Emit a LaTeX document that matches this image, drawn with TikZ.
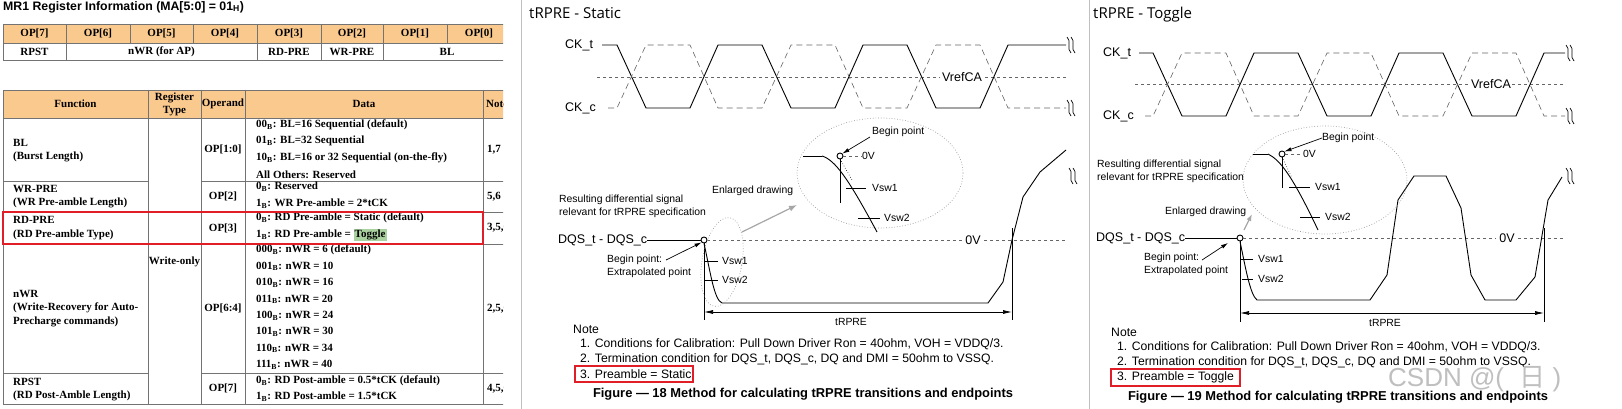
\documentclass[tikz,border=0pt]{standalone}
\usepackage{fontspec}
\setmainfont{Liberation Serif}
\newfontfamily\arial{Liberation Sans}
\newfontfamily\ttl{Open Sans}
\newfontfamily\cjk{Noto Sans CJK SC}
\usetikzlibrary{arrows.meta}
\definecolor{hdr}{RGB}{250,201,142}
\definecolor{hl}{RGB}{170,210,160}
\definecolor{redb}{RGB}{225,30,40}
\tikzset{
 tb/.style={font=\fontsize{11}{12}\selectfont\bfseries, inner sep=0pt},
 tl/.style={tb, anchor=west},
 grid/.style={draw=black!55, line width=0.6pt},
 lab/.style={font=\arial\fontsize{12.5}{13}\selectfont, inner sep=0pt},
 sm/.style={font=\arial\fontsize{10.4}{11}\selectfont, inner sep=0pt, anchor=west},
 note/.style={font=\arial\fontsize{12.2}{13}\selectfont, inner sep=0pt, anchor=west},
 sig/.style={line width=0.9pt},
 dsig/.style={line width=0.6pt, dash pattern=on 6pt off 4pt, black!60},
 zero/.style={line width=0.6pt, dash pattern=on 3pt off 3pt, black!60},
 circ/.style={draw, circle, line width=0.9pt, minimum size=6pt, inner sep=0pt},
 ell/.style={draw=black!40, dotted, line width=0.7pt},
 redbox/.style={draw=redb, line width=1.1pt},
 brk/.pic={\draw[line width=0.7pt] (-3,-8) .. controls (2,-4) and (-4,4) .. (1,8);
           \draw[line width=0.7pt] (1,-8) .. controls (6,-4) and (0,4) .. (5,8);}
}
\begin{document}
\begin{tikzpicture}[x=1pt,y=-1pt]
\useasboundingbox (0,0) rectangle (1622,409);
\fill[white] (0,0) rectangle (1622,409);
% ================= LEFT TABLE =================
\node[anchor=west, inner sep=0pt, font=\arial\bfseries\fontsize{12.3}{13}\selectfont] (t0) at (3,7) {MR1 Register Information (MA[5:0] = 01\textsubscript{H})};
\begin{scope}
\clip (0,15) rectangle (503,409);
\fill[hdr] (3,24) rectangle (510,43);
\draw[grid] (3,24) rectangle (510,60);
\draw[grid] (3,43) -- (510,43);
\foreach \x in {66,257,321,383} \draw[grid] (\x,24) -- (\x,60);
\foreach \x in {130,193,447} \draw[grid] (\x,24) -- (\x,43);
\foreach \i/\xa/\xb in {7/3/66,6/66/130,5/130/193,4/193/257,3/257/321,2/321/383,1/383/447,0/447/511}
  \node[tb] (op\i) at ({(\xa+\xb)/2},33.5) {OP[\i]};
\node[tb] (r1) at (34.5,51.5) {RPST};
\node[tb] (r2) at (161.5,51.5) {nWR (for AP)};
\node[tb] (r3) at (289,51.5) {RD-PRE};
\node[tb] (r4) at (352,51.5) {WR-PRE};
\node[tb] (r5) at (447,51.5) {BL};
% main table
\fill[hdr] (3,90) rectangle (520,118);
\draw[grid] (3,90) rectangle (520,404);
\draw[grid] (3,118) -- (520,118);
\foreach \y in {181,212,244,373} {\draw[grid] (3,\y) -- (148,\y); \draw[grid] (201,\y) -- (520,\y);}
\foreach \x in {148,201,245,483} \draw[grid] (\x,90) -- (\x,404);
\node[tb] (h1) at (75.5,104) {Function};
\node[tb, align=center] (h2) at (174.5,104) {Register\\[1pt]Type};
\node[tb] (h3) at (223,104) {Operand};
\node[tb] (h4) at (364,104) {Data};
\node[tb, anchor=west] (h5) at (486,104) {Notes};
\node[tl] (f1) at (13,143) {BL};
\node[tl] (f1b) at (13,157) {(Burst Length)};
\node[tl] (f2) at (13,189) {WR-PRE};
\node[tl] (f2b) at (13,203) {(WR Pre-amble Length)};
\node[tl] (f3) at (13,220) {RD-PRE};
\node[tl] (f3b) at (13,235) {(RD Pre-amble Type)};
\node[tl] (f4) at (13,294) {nWR};
\node[tl] (f4b) at (13,308) {(Write-Recovery for Auto-};
\node[tl] (f4c) at (13,322) {Precharge commands)};
\node[tl] (f5) at (13,382) {RPST};
\node[tl] (f5b) at (13,396) {(RD Post-Amble Length)};
\node[tb] (wo) at (174.5,262) {Write-only};
\node[tb] (o1) at (223,149.5) {OP[1:0]};
\node[tb] (o2) at (223,196.5) {OP[2]};
\node[tb] (o3) at (223,228) {OP[3]};
\node[tb] (o4) at (223,308.5) {OP[6:4]};
\node[tb] (o5) at (223,388.5) {OP[7]};
\node[tl] (n1) at (487,149.5) {1,7};
\node[tl] (n2) at (487,196.5) {5,6};
\node[tl] (n3) at (487,228) {3,5,6};
\node[tl] (n4) at (487,308.5) {2,5,6};
\node[tl] (n5) at (487,388.5) {4,5,6};
\node[tl] (d1) at (256,125) {00\textsubscript{B}: BL=16 Sequential (default)};
\node[tl] (d2) at (256,141) {01\textsubscript{B}: BL=32 Sequential};
\node[tl] (d3) at (256,158) {10\textsubscript{B}: BL=16 or 32 Sequential (on-the-fly)};
\node[tl] (d4) at (256,175) {All Others: Reserved};
\node[tl] (d5) at (256,187) {0\textsubscript{B}: Reserved};
\node[tl] (d6) at (256,204) {1\textsubscript{B}: WR Pre-amble = 2*tCK};
\node[tl] (d7) at (256,218) {0\textsubscript{B}: RD Pre-amble = Static (default)};
\node[tl] (d8) at (256,235) {1\textsubscript{B}: RD Pre-amble = {\setlength\fboxsep{1pt}\colorbox{hl}{Toggle}}};
\foreach \v/\n [count=\i] in {000/6 (default),001/10,010/16,011/20,100/24,101/30,110/34,111/40}
  \node[tl] (w\i) at (256,{250+16.4*(\i-1)}) {\v\textsubscript{B}: nWR = \n};
\node[tl] (d9) at (256,381) {0\textsubscript{B}: RD Post-amble = 0.5*tCK (default)};
\node[tl] (d10) at (256,397) {1\textsubscript{B}: RD Post-amble = 1.5*tCK};
\draw[redbox] (3,212) rectangle (483,244);
\end{scope}
% panel frames
\draw[black!25, line width=1pt] (521,0) -- (521,409);
\draw[black!25, line width=1pt] (1089,0) -- (1089,409);
% ================= MIDDLE PANEL =================
\node[anchor=west, inner sep=0pt, font=\ttl\fontsize{15}{16}\selectfont] (T1) at (529,13) {tRPRE - Static};
\node[lab, anchor=west] (ckt1) at (565,45) {CK\_t};
\node[lab, anchor=west] (ckc1) at (565,108) {CK\_c};
\draw[zero] (597,77) -- (940,77);
\draw[zero] (985,77) -- (1066,77);
\node[lab] (vr1) at (962,77) {VrefCA};
\draw[sig] (602,45) -- (617,45) -- (646,108) -- (690,108) -- (718,45) -- (762,45) -- (791,108) -- (835,108) -- (863,45) -- (907,45) -- (936,108) -- (980,108) -- (1008,45) -- (1066,45);
\draw[dsig] (608,108) -- (617,108) -- (646,45) -- (690,45) -- (718,108) -- (762,108) -- (791,45) -- (835,45) -- (863,108) -- (907,108) -- (936,45) -- (980,45) -- (1008,108) -- (1066,108);
\pic at (1070,45) {brk};
\pic at (1070,108) {brk};
\pic at (1072,176) {brk};
% DQS
\node[lab, anchor=west] (dqs1) at (558,240) {DQS\_t - DQS\_c};
\node[circ] (bp1) at (704,240) {};
\draw[sig] (dqs1.east) -- (bp1.west);
\draw[zero] (bp1.east) -- (962,240);
\node[lab] (ov1) at (973,240) {0V};
\draw[zero] (984,240) -- (1066,240);
\draw[sig] (bp1.south) .. controls (710,270) and (714,300) .. (722,303) -- (988,303) -- (1003,282) -- (1012,240) -- (1023,197) -- (1040,172) -- (1066,150);
\draw[line width=0.6pt] (704,243) -- (704,320);
\draw[line width=0.6pt] (1012,228) -- (1012,320);
\draw[line width=0.7pt, {Latex[length=9pt,width=4pt]}-{Latex[length=9pt,width=4pt]}] (704,312) -- (1012,312);
\node[sm, anchor=center] (tr1) at (851,322) {tRPRE};
\draw[line width=0.6pt] (704,261) -- (718,261); \node[sm] (v11) at (722,261) {Vsw1};
\draw[line width=0.6pt] (705,280) -- (718,280); \node[sm] (v12) at (722,280) {Vsw2};
\draw[ell, rotate around={-10:(722,262)}] (722,262) ellipse (20 and 45);
\draw[ell] (880,173) ellipse (83 and 55);
\draw[black!35, line width=1.2pt, -{Latex[length=8pt,width=6pt]}] (742,232) -- (797,205);
\node[sm] (en1) at (712,191) {Enlarged drawing};
\node[sm] (rs1) at (559,200) {Resulting differential signal};
\node[sm] (rs1b) at (559,213) {relevant for tRPRE specification};
% enlarged
\node[circ] (bq1) at (840,156) {};
\draw[line width=0.9pt] (803,156) -- (822,156);
\draw[line width=0.9pt] (822,156) .. controls (835,160) and (848,178) .. (877,232);
\draw[zero] (bq1.east) -- (862,156);
\node[sm] (oq1) at (862,156) {0V};
\draw[line width=0.6pt] (840,159) -- (840,203);
\draw[dotted, line width=0.6pt] (840,159) -- (852,180);
\draw[line width=0.6pt] (846,188) -- (866,188); \node[sm] (e11) at (872,188) {Vsw1};
\draw[line width=0.6pt] (858,218) -- (880,218); \node[sm] (e12) at (884,218) {Vsw2};
\node[sm] (bg1) at (872,132) {Begin point};
\draw[line width=0.7pt, -{Latex[length=7pt,width=4pt]}] (870,137) -- (bq1.north east);
\node[sm] (bx1) at (607,260) {Begin point:};
\node[sm] (bx1b) at (607,273) {Extrapolated point};
\draw[line width=0.7pt, -{Latex[length=7pt,width=4pt]}] (666,260) -- (bp1.south west);
\node[note] (nt1) at (573,329) {Note};
\node[note] (nt1a) at (580,344) {1. Conditions for Calibration: Pull Down Driver Ron = 40ohm, VOH = VDDQ/3.};
\node[note] (nt1b) at (580,359) {2. Termination condition for DQS\_t, DQS\_c, DQ and DMI = 50ohm to VSSQ.};
\node[note] (nt1c) at (580,374) {3. Preamble = Static};
\draw[redbox] (575,366) rectangle (693,382);
\node[inner sep=0pt, font=\arial\bfseries\fontsize{12.9}{13}\selectfont] (cap1) at (803,394) {Figure — 18 Method for calculating tRPRE transitions and endpoints};
% ================= RIGHT PANEL =================
\node[anchor=west, inner sep=0pt, font=\ttl\fontsize{15}{16}\selectfont] (T2) at (1093,15) {tRPRE - Toggle};
\node[lab, anchor=west] (ckt2) at (1103,53) {CK\_t};
\node[lab, anchor=west] (ckc2) at (1103,116) {CK\_c};
\draw[zero] (1135,84) -- (1470,84);
\draw[zero] (1512,84) -- (1565,84);
\node[lab] (vr2) at (1491,84) {VrefCA};
\draw[sig] (1139,53) -- (1153,53) -- (1182,116) -- (1226,116) -- (1254,53) -- (1298,53) -- (1327,116) -- (1371,116) -- (1399,53) -- (1443,53) -- (1472,116) -- (1516,116) -- (1544,53) -- (1565,53);
\draw[dsig] (1145,116) -- (1153,116) -- (1182,53) -- (1226,53) -- (1254,116) -- (1298,116) -- (1327,53) -- (1371,53) -- (1399,116) -- (1443,116) -- (1472,53) -- (1516,53) -- (1544,116) -- (1565,116);
\pic at (1569,53) {brk};
\pic at (1569,116) {brk};
\pic at (1569,176) {brk};
\node[lab, anchor=west] (dqs2) at (1096,238) {DQS\_t - DQS\_c};
\node[circ] (bp2) at (1240,238) {};
\draw[sig] (dqs2.east) -- (bp2.west);
\draw[zero] (bp2.east) -- (1496,238);
\node[lab] (ov2) at (1507,238) {0V};
\draw[zero] (1518,238) -- (1565,238);
\draw[sig] (bp2.south) .. controls (1245,265) and (1250,295) .. (1257,300) -- (1370,300) -- (1387,275) -- (1398,200) -- (1414,176) -- (1446,176) -- (1461,208) -- (1471,275) -- (1485,300) -- (1516,300) -- (1535,277) -- (1548,200) -- (1562,177);
\draw[line width=0.6pt] (1240,241) -- (1240,322);
\draw[line width=0.6pt] (1544,228) -- (1544,322);
\draw[line width=0.7pt, {Latex[length=9pt,width=4pt]}-{Latex[length=9pt,width=4pt]}] (1240,313) -- (1544,313);
\node[sm, anchor=center] (tr2) at (1385,323) {tRPRE};
\draw[line width=0.6pt] (1241,259) -- (1253,259); \node[sm] (v21) at (1258,259) {Vsw1};
\draw[line width=0.6pt] (1242,279) -- (1253,279); \node[sm] (v22) at (1258,279) {Vsw2};
\draw[ell] (1325,180) ellipse (82 and 54);
\draw[black!35, line width=1.2pt, -{Latex[length=7pt,width=5pt]}] (1244,230) -- (1252,214);
\node[sm] (en2) at (1165,212) {Enlarged drawing};
\node[sm] (rs2) at (1097,165) {Resulting differential signal};
\node[sm] (rs2b) at (1097,178) {relevant for tRPRE specification};
\node[circ] (bq2) at (1282,154) {};
\draw[line width=0.9pt] (1253,154) -- (1268,154);
\draw[line width=0.9pt] (1268,154) .. controls (1280,160) and (1292,175) .. (1318,230);
\draw[zero] (bq2.east) -- (1302,154);
\node[sm] (oq2) at (1303,154) {0V};
\draw[line width=0.6pt] (1282,157) -- (1282,188);
\draw[dotted, line width=0.6pt] (1282,157) -- (1292,178);
\draw[line width=0.6pt] (1289,187) -- (1310,187); \node[sm] (e21) at (1315,187) {Vsw1};
\draw[line width=0.6pt] (1300,217) -- (1320,217); \node[sm] (e22) at (1325,217) {Vsw2};
\node[sm] (bg2) at (1322,138) {Begin point};
\draw[line width=0.7pt, -{Latex[length=7pt,width=4pt]}] (bg2.west) -- (bq2.north east);
\node[sm] (bx2) at (1144,258) {Begin point:};
\node[sm] (bx2b) at (1144,271) {Extrapolated point};
\draw[line width=0.7pt, -{Latex[length=7pt,width=4pt]}] (1202,260) -- (1228,243);
\node[note] (nt2) at (1111,332) {Note};
\node[note] (nt2a) at (1117,347) {1. Conditions for Calibration: Pull Down Driver Ron = 40ohm, VOH = VDDQ/3.};
\node[note] (nt2b) at (1117,362) {2. Termination condition for DQS\_t, DQS\_c, DQ and DMI = 50ohm to VSSQ.};
\node[note] (nt2c) at (1117,377) {3. Preamble = Toggle};
\draw[redbox] (1111,369) rectangle (1240,386);
\node[inner sep=0pt, font=\arial\bfseries\fontsize{12.9}{13}\selectfont] (cap2) at (1338,397) {Figure — 19 Method for calculating tRPRE transitions and endpoints};
\node[anchor=west, inner sep=0pt, text=black!25, font=\arial\fontsize{26}{28}\selectfont] (wm) at (1388,379) {CSDN @( \hspace{8pt}{\cjk 日} )};
\end{tikzpicture}
\end{document}
